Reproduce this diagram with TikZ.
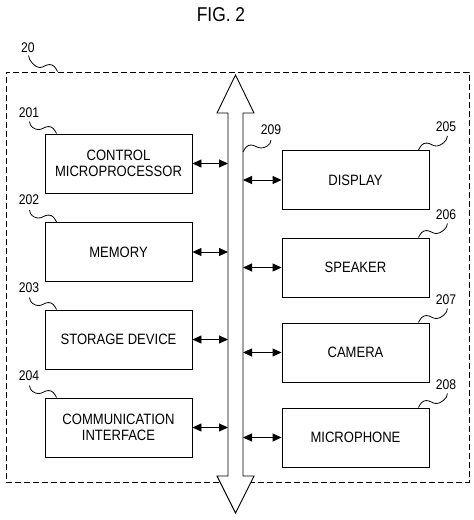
\documentclass[tikz,border=0pt]{standalone}
\usepackage{fontspec}
\setmainfont{Liberation Sans}[FakeStretch=0.87]
\usetikzlibrary{arrows.meta,positioning}

\tikzset{
  unitbox/.style={draw, line width=0.9pt, minimum width=147pt, minimum height=59pt,
    align=center, inner sep=2pt, font=\fontsize{15}{16.5}\selectfont},
  refnum/.style={inner sep=1pt, font=\fontsize{14}{14}\selectfont},
  leader/.style={line width=0.8pt},
  busarrow/.style={{Triangle[length=9pt,width=8pt]}-{Triangle[length=9pt,width=8pt]}, line width=0.9pt},
}

\begin{document}
\begin{tikzpicture}[x=1pt, y=-1pt]
    \useasboundingbox (0,0) rectangle (474,520);

    % Title
    \node[font=\fontsize{20}{20}\selectfont] (title) at (221,15) {FIG. 2};

    % Device frame
    \node[draw, dashed, dash pattern=on 6pt off 3pt, line width=0.9pt,
          minimum width=463pt, minimum height=410pt, inner sep=0pt] (dev) at (237.5,277) {};

    % Left units
    \node[unitbox] (ctrl) at (118.5,163.5) {CONTROL\\MICROPROCESSOR};
    \node[unitbox] (mem)  at (118.5,252)   {MEMORY};
    \node[unitbox] (stor) at (118.5,339.5) {STORAGE DEVICE};
    \node[unitbox] (comm) at (118.5,427.5) {COMMUNICATION\\INTERFACE};

    % Right units
    \node[unitbox] (disp) at (355.5,180)   {DISPLAY};
    \node[unitbox] (spk)  at (355.5,267.5) {SPEAKER};
    \node[unitbox] (cam)  at (355.5,352.5) {CAMERA};
    \node[unitbox] (mic)  at (355.5,437.5) {MICROPHONE};

    % Bus (double-headed hollow arrow)
    \filldraw[fill=white, line width=0.9pt]
        (228,476) -- (228,113) -- (217,113) -- (235.5,75) -- (254,113) -- (243,113)
        -- (243,476) -- (254,476) -- (235.5,513) -- (217,476) -- cycle;
    \coordinate (busL) at (228,100);
    \coordinate (busR) at (243,100);
    \coordinate (b209) at (243,152);

    % Connections to the bus
    \foreach \u in {ctrl,mem,stor,comm}
        \draw[busarrow] (\u.east) -- (\u.east -| busL);
    \foreach \u in {disp,spk,cam,mic}
        \draw[busarrow] (\u.west -| busR) -- (\u.west);

    % Reference numerals
    \node[refnum] (n20)  at (28,48)   {20};
    \node[refnum] (n201) at (29,113)  {201};
    \node[refnum] (n202) at (29,200)  {202};
    \node[refnum] (n203) at (29,288)  {203};
    \node[refnum] (n204) at (29,376)  {204};
    \node[refnum] (n205) at (446,127) {205};
    \node[refnum] (n206) at (446,215) {206};
    \node[refnum] (n207) at (446,300) {207};
    \node[refnum] (n208) at (446,385) {208};
    \node[refnum] (n209) at (271,130) {209};

    % Leader lines (left side)
    \foreach \u in {ctrl,mem,stor,comm}
        \draw[leader] ([xshift=12pt]\u.north west) .. controls +(-2,-4) and +(4,0) .. ++(-8,-7)
            .. controls +(-4,0) and +(4,0) .. ++(-10,3) .. controls +(-4,0) and +(0,5) .. ++(-9,-8);
    \draw[leader] ([xshift=52pt]dev.north west) .. controls +(-2,-4) and +(4,0) .. ++(-8,-7)
        .. controls +(-4,0) and +(4,0) .. ++(-10,3) .. controls +(-4,0) and +(0,5) .. ++(-11,-12);

    % Leader lines (right side)
    \foreach \u in {disp,spk,cam,mic}
        \draw[leader] ([xshift=-11pt]\u.north east) .. controls +(2,-4) and +(-4,0) .. ++(8,-7)
            .. controls +(4,0) and +(-4,0) .. ++(10,3) .. controls +(4,0) and +(0,5) .. ++(11,-10);
    \draw[leader] (b209) .. controls +(2,-4) and +(-4,0) .. ++(8,-7)
        .. controls +(4,0) and +(-4,0) .. ++(10,3) .. controls +(4,0) and +(0,5) .. ++(10,-8);
\end{tikzpicture}
\end{document}
